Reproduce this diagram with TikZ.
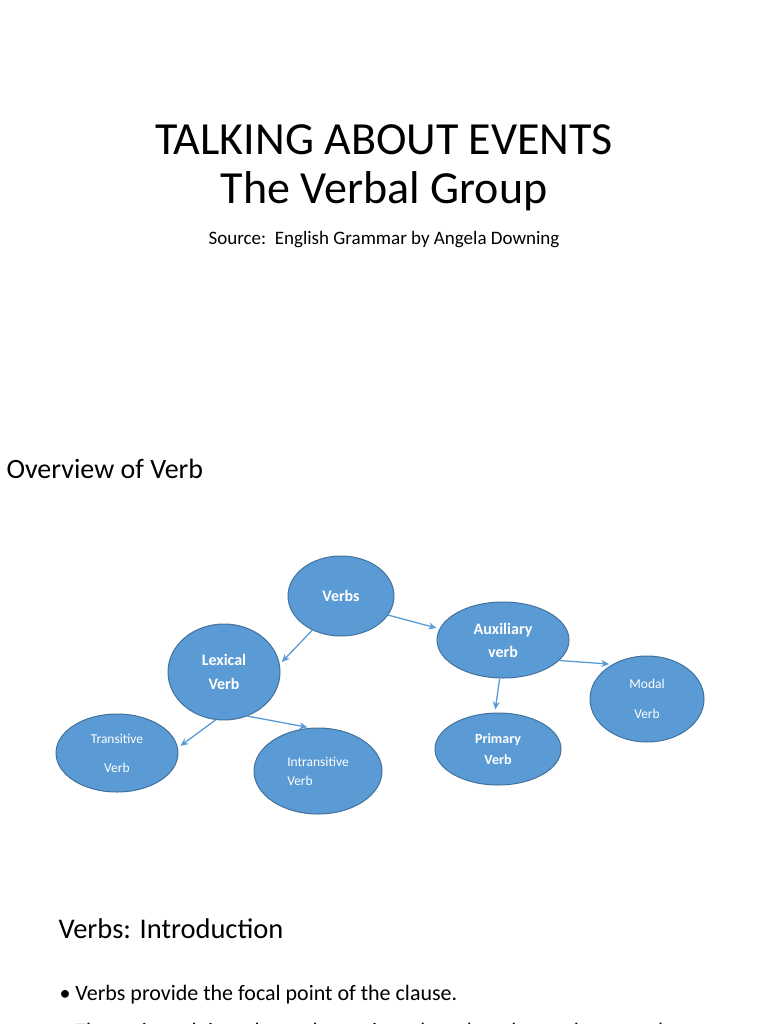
\documentclass[tikz,border=0pt]{standalone}
\usepackage{fontspec}
\setmainfont{Carlito}
\usetikzlibrary{shapes.geometric,arrows.meta}
\definecolor{fillb}{HTML}{5B9BD5}
\definecolor{edgeb}{HTML}{41719C}
\definecolor{arr}{HTML}{5B9BD5}
\begin{document}
\begin{tikzpicture}[x=1pt,y=-1pt,
  bub/.style={ellipse,draw=edgeb,fill=fillb,line width=1pt,text=white,align=center,inner sep=0pt},
  con/.style={draw=arr,line width=1.3pt,-{Stealth[length=8pt,width=7pt]},shorten >=3pt}]
\path[use as bounding box] (0,0) rectangle (768,1024);
\node[font=\fontsize{46}{50}\selectfont] (t1) at (384,140) {TALKING ABOUT EVENTS};
\node[font=\fontsize{46}{50}\selectfont] (t2) at (384,191) {The Verbal Group};
\node[font=\fontsize{19}{22}\selectfont] (t3) at (384,240) {Source:\ \ English Grammar by Angela Downing};
\node[anchor=west,font=\fontsize{28}{32}\selectfont] (h1) at (3,469) {Overview of Verb};
\node[bub,minimum width=106,minimum height=80,font=\bfseries\fontsize{16}{18}\selectfont] (v) at (341,596) {Verbs};
\node[bub,minimum width=112,minimum height=96,font=\bfseries\fontsize{16}{24}\selectfont] (lx) at (224,672) {Lexical\\Verb};
\node[bub,minimum width=132,minimum height=76,font=\bfseries\fontsize{16}{23}\selectfont] (ax) at (503,640) {Auxiliary\\verb};
\node[bub,minimum width=114,minimum height=86,font=\fontsize{13.5}{30}\selectfont] (md) at (647,699) {Modal\\Verb};
\node[bub,minimum width=126,minimum height=72,font=\bfseries\fontsize{14}{21}\selectfont] (pr) at (498,749) {Primary\\Verb};
\node[bub,minimum width=122,minimum height=78,font=\fontsize{13.5}{29}\selectfont] (tr) at (117,753) {Transitive\\Verb};
\node[bub,minimum width=128,minimum height=86,font=\fontsize{13.5}{19}\selectfont,align=left] (in) at (318,771) {Intransitive\\Verb};
\draw[con] (v.-22) -- (ax.170);
\draw[con] (v.-130) -- (lx.8);
\draw[con] (lx.-100) -- (tr.5);
\draw[con] (lx.-62) -- (in.100);
\draw[con] (ax.-95) -- (pr.95);
\draw[con] (ax.-20) -- (md.135);
\node[anchor=west,font=\fontsize{28.5}{32}\selectfont] (h2) at (55,929) {Verbs: Introduction};
\node[anchor=west,font=\fontsize{22}{26}\selectfont] (b1) at (56,995) {\textbullet\ Verbs provide the focal point of the clause.};
\begin{scope}
\clip (0,0) rectangle (768,1024);
\node[anchor=west,font=\fontsize{22}{26}\selectfont] (b2) at (56,1031) {\textbullet\ The main verb in a clause determines the other clause elements that};
\end{scope}
\end{tikzpicture}
\end{document}
